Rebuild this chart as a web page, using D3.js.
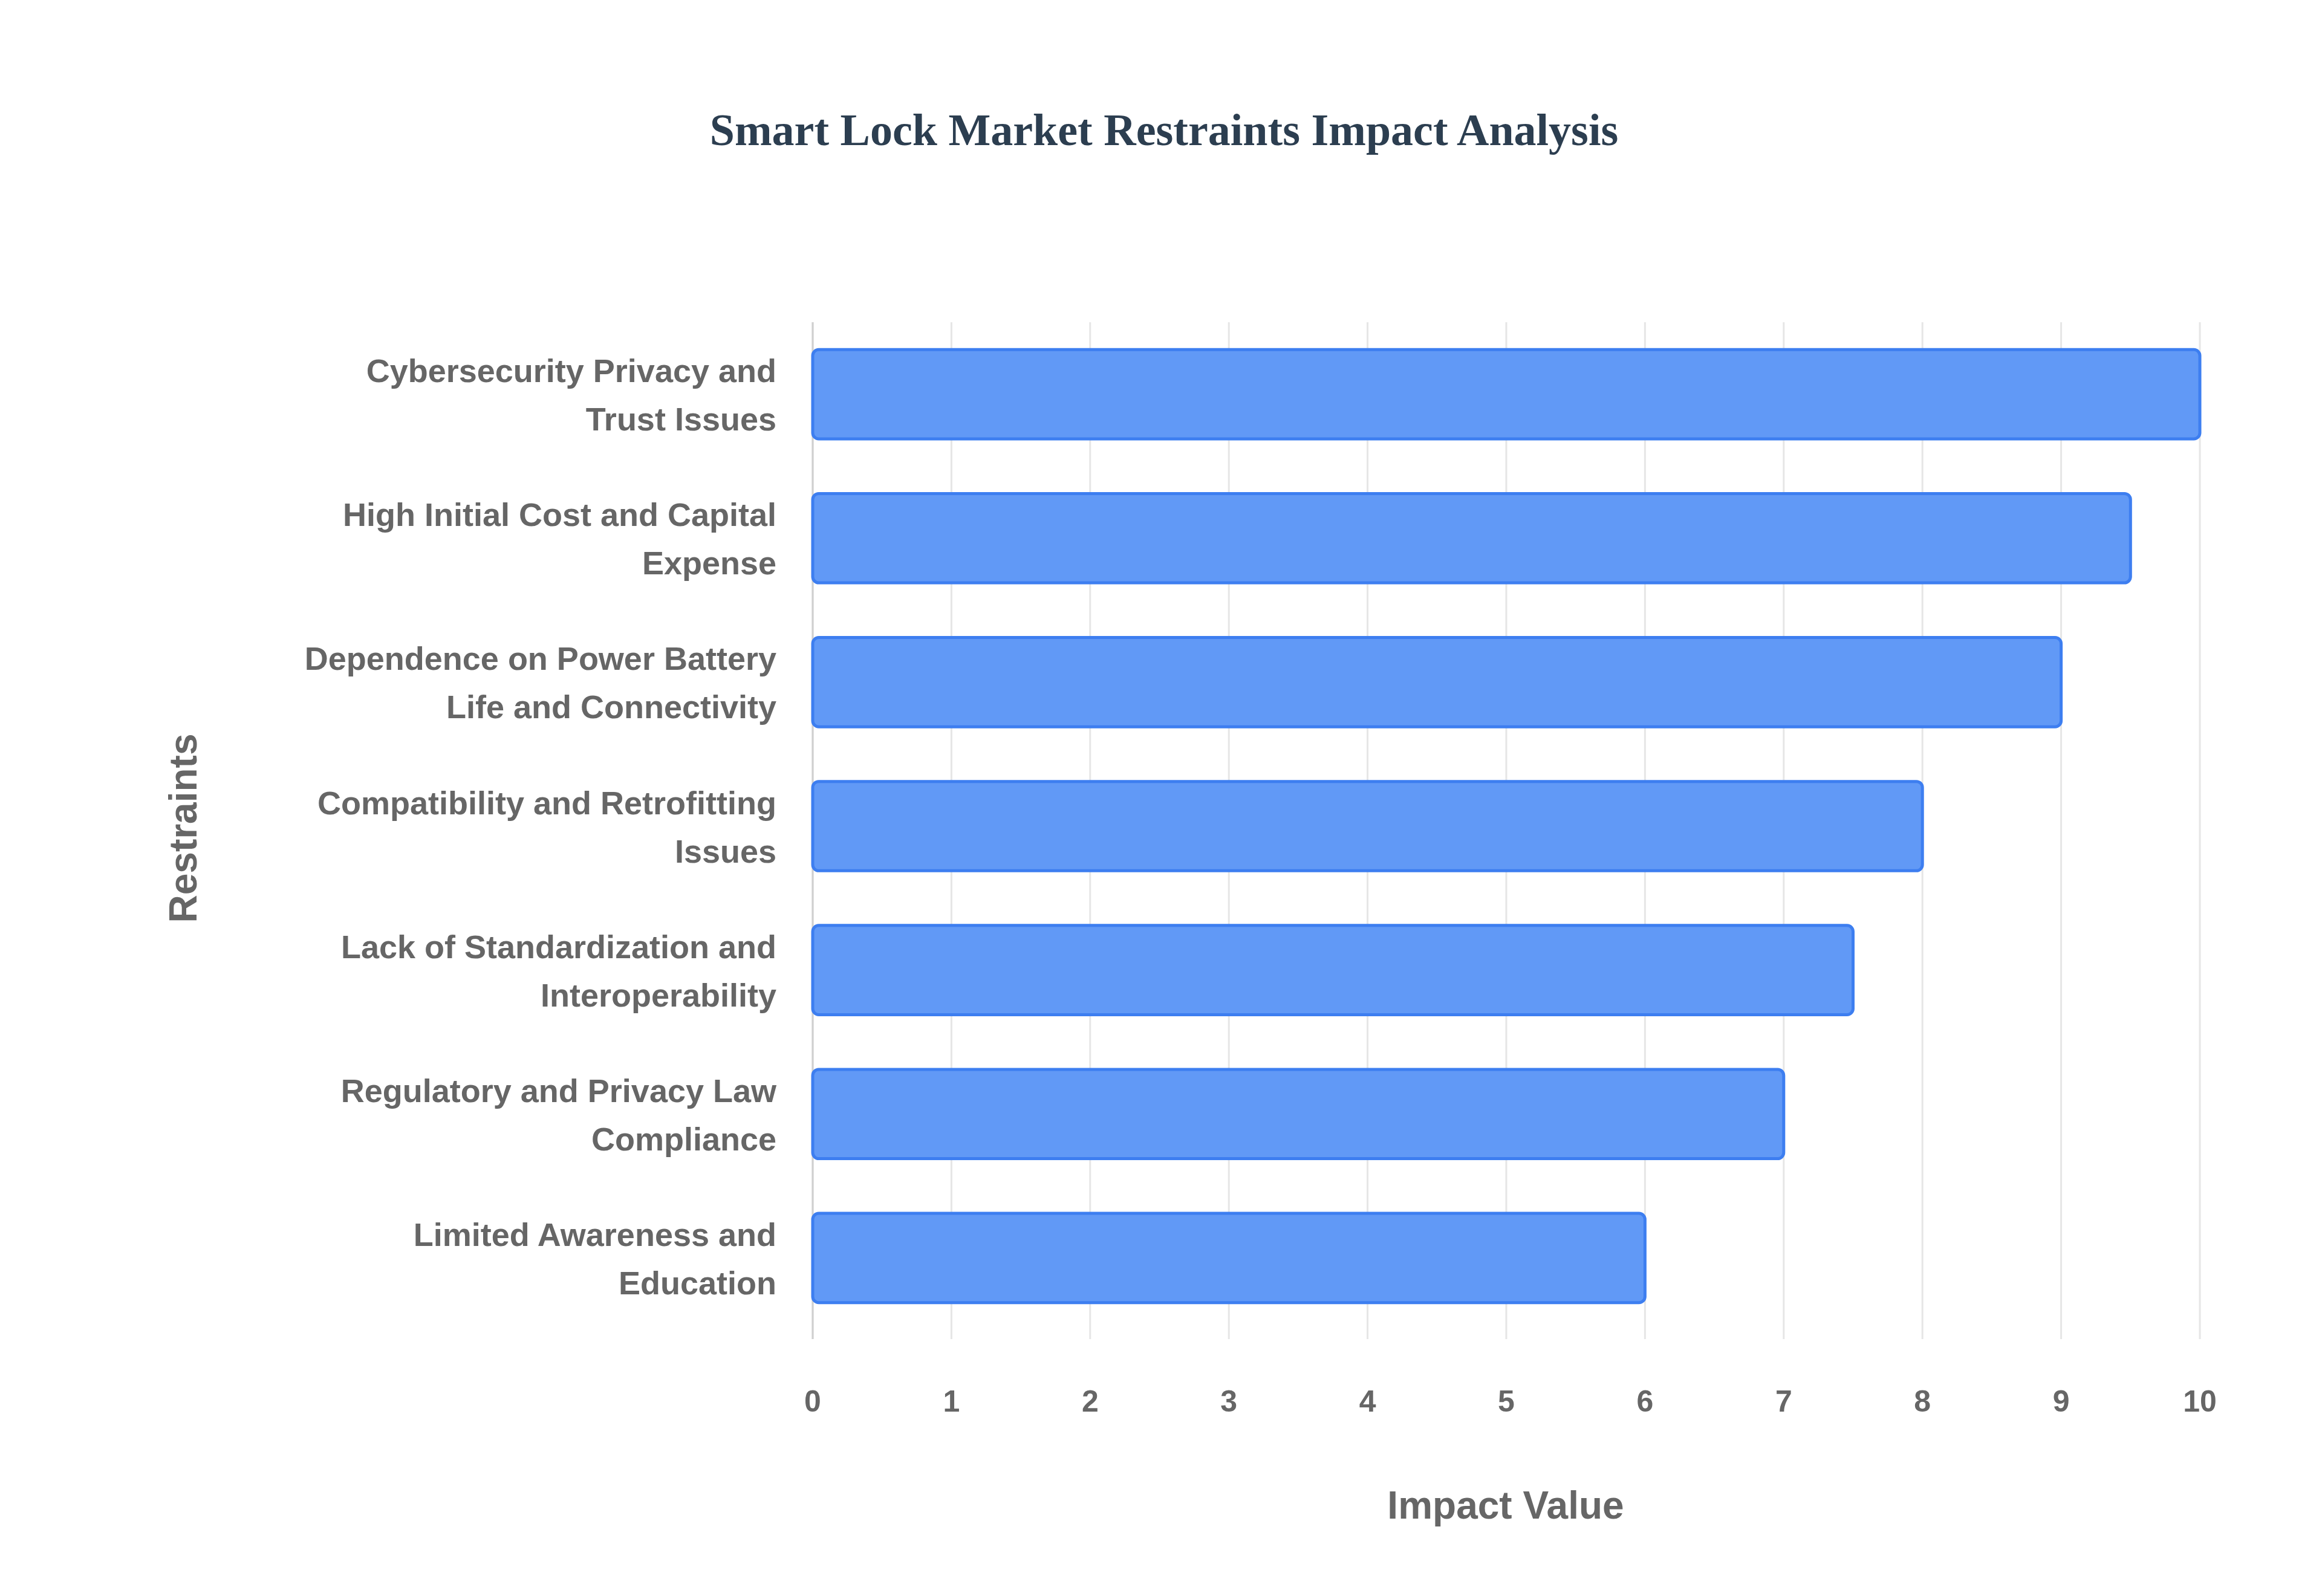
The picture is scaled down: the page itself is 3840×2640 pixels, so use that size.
<!DOCTYPE html><html><head><meta charset="utf-8"><script src="https://cdn.jsdelivr.net/npm/d3@7"></script>
<style>body{margin:0;background:#fff}</style></head><body><svg id="c" width="3840" height="2640"></svg>
<script>
const categories=[["Cybersecurity Privacy and","Trust Issues"],["High Initial Cost and Capital","Expense"],["Dependence on Power Battery","Life and Connectivity"],["Compatibility and Retrofitting","Issues"],["Lack of Standardization and","Interoperability"],["Regulatory and Privacy Law","Compliance"],["Limited Awareness and","Education"]];
const values=[10,9.5,9,8,7.5,7,6];
const ticks=[0,1,2,3,4,5,6,7,8,9,10];
const svg=d3.select("#c");
const x=d3.scaleLinear().domain([0,10]).range([1344,3638]);
const y=d3.scaleBand().domain(d3.range(values.length)).range([533,2200]).paddingInner(0.38).paddingOuter(0.19);
const font="'Liberation Sans',Arial,sans-serif";
svg.append("g").selectAll("line").data(ticks).join("line").attr("x1",d=>x(d)).attr("x2",d=>x(d)).attr("y1",533).attr("y2",2215).attr("stroke","#e6e6e6").attr("stroke-width",3);
svg.append("line").attr("x1",x(0)).attr("x2",x(0)).attr("y1",533).attr("y2",2215).attr("stroke","#d0d0d0").attr("stroke-width",3);
svg.append("g").selectAll("rect").data(values).join("rect").attr("x",x(0)).attr("y",(d,i)=>y(i)).attr("width",d=>x(d)-x(0)).attr("height",y.bandwidth()).attr("rx",10).attr("fill","#6199f6").attr("stroke","#3d7ef0").attr("stroke-width",5);
svg.append("g").selectAll("text").data(ticks).join("text").attr("x",d=>x(d)).attr("y",2335).attr("text-anchor","middle").attr("font-family",font).attr("font-weight","bold").attr("font-size",50).attr("fill","#666").text(d=>d);
const lab=svg.append("g").selectAll("text").data(categories).join("text").attr("text-anchor","end").attr("font-family",font).attr("font-weight","bold").attr("font-size",54).attr("fill","#666");
lab.each(function(d,i){const c=y(i)+y.bandwidth()/2;d3.select(this).selectAll("tspan").data(d).join("tspan").attr("x",1284).attr("y",(t,j)=>c-20+j*80).text(t=>t);});
svg.append("text").attr("x",1925).attr("y",240).attr("text-anchor","middle").attr("font-family","'Liberation Serif','Times New Roman',serif").attr("font-weight","bold").attr("font-size",74).attr("fill","#2c3e50").text("Smart Lock Market Restraints Impact Analysis");
svg.append("text").attr("x",2490).attr("y",2512).attr("text-anchor","middle").attr("font-family",font).attr("font-weight","bold").attr("font-size",64).attr("fill","#666").text("Impact Value");
svg.append("text").attr("transform","translate(325,1370) rotate(-90)").attr("text-anchor","middle").attr("font-family",font).attr("font-weight","bold").attr("font-size",64).attr("fill","#666").text("Restraints");
</script></body></html>
